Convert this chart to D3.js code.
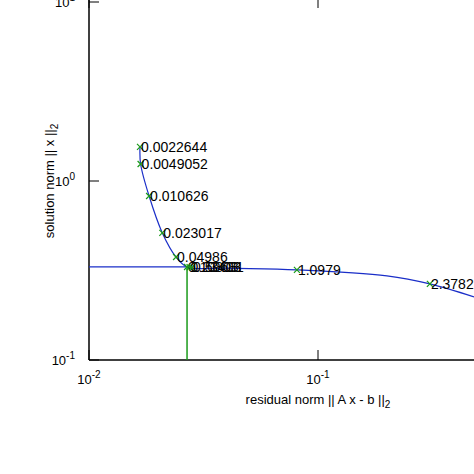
<!DOCTYPE html><html><head><script src="https://d3js.org/d3.v7.min.js"></script>
<style>body{margin:0;background:#fff}text{font-family:"Liberation Sans",Arial,sans-serif}</style></head><body>
<svg id="c" width="474" height="474"></svg>
<script>
const residual=[0.0167,0.0168,0.0183,0.0209,0.0240,0.0268,0.0275,0.0282,0.0809,0.308];
const solution=[1.55,1.245,0.824,0.513,0.376,0.331,0.330,0.329,0.319,0.266];
const labels=["0.0022644","0.0049052","0.010626","0.023017","0.04986","0.10803","0.23403","0.50681","1.0979","2.3782"];
const curveX=[0.0167,0.0168,0.0183,0.0209,0.0240,0.0268,0.0400,0.0809,0.20,0.308,0.48];
const curveY=[1.55,1.245,0.824,0.513,0.376,0.331,0.326,0.319,0.295,0.266,0.225];
const cornerX=0.0268, cornerY=0.331;
const svg=d3.select("#c");
const x=d3.scaleLog().domain([0.01,1]).range([89,547]);
const y=d3.scaleLog().domain([0.1,10]).range([360,2]);
const g=svg.append("g");
g.append("line").attr("x1",89).attr("x2",89).attr("y1",0).attr("y2",360).attr("stroke","#000").attr("stroke-width",1.5);
g.append("line").attr("x1",89).attr("x2",474).attr("y1",360).attr("y2",360).attr("stroke","#000").attr("stroke-width",1.5);
[0.01,0.1].forEach(v=>{g.append("line").attr("x1",x(v)).attr("x2",x(v)).attr("y1",360).attr("y2",350).attr("stroke","#000");
 g.append("line").attr("x1",x(v)).attr("x2",x(v)).attr("y1",0).attr("y2",8).attr("stroke","#000");});
[0.1,1,10].forEach(v=>{g.append("line").attr("x1",89).attr("x2",99).attr("y1",y(v)).attr("y2",y(v)).attr("stroke","#000");});
function pow(t,xp,yp,anchor,e){const tx=t.append("text").attr("x",xp).attr("y",yp).attr("text-anchor",anchor).attr("font-size",13);
 tx.append("tspan").text("10");tx.append("tspan").attr("dy",-6).attr("font-size",10).text(e);}
pow(g,x(0.01),384,"middle","-2");pow(g,x(0.1),384,"middle","-1");
pow(g,75,y(0.1)+5,"end","-1");pow(g,75,y(1)+5,"end","0");pow(g,75,y(10)+5,"end","1");
const xl=g.append("text").attr("x",318).attr("y",404).attr("text-anchor","middle").attr("font-size",13);
xl.append("tspan").text("residual norm || A x - b ||");xl.append("tspan").attr("dy",4).attr("font-size",10).text("2");
const yl=g.append("text").attr("transform","translate(54,181) rotate(-90)").attr("text-anchor","middle").attr("font-size",13);
yl.append("tspan").text("solution norm || x ||");yl.append("tspan").attr("dy",4).attr("font-size",10).text("2");
const clip=svg.append("clipPath").attr("id","cp").append("rect").attr("x",89).attr("y",0).attr("width",400).attr("height",360);
const p=svg.append("g").attr("clip-path","url(#cp)");
p.append("line").attr("x1",89).attr("x2",x(cornerX)).attr("y1",y(cornerY)).attr("y2",y(cornerY)).attr("stroke","#1a2ec8").attr("stroke-width",1.2);
p.append("line").attr("x1",x(cornerX)).attr("x2",x(cornerX)).attr("y1",y(cornerY)).attr("y2",360).attr("stroke","#1a9a1a").attr("stroke-width",1.5);
p.append("path").datum(curveX.map((v,i)=>[v,curveY[i]])).attr("d",d3.line().x(d=>x(d[0])).y(d=>y(d[1])).curve(d3.curveCatmullRom)).attr("fill","none").attr("stroke","#1a2ec8").attr("stroke-width",1.2);
residual.forEach((v,i)=>{const cx=x(v),cy=y(solution[i]);
 p.append("path").attr("d",`M${cx-3},${cy-3}L${cx+3},${cy+3}M${cx-3},${cy+3}L${cx+3},${cy-3}`).attr("stroke","#1a9a1a").attr("stroke-width",1.2);
 p.append("text").attr("x",cx+1).attr("y",cy+5).attr("font-size",14).text(labels[i]);});
</script></body></html>
